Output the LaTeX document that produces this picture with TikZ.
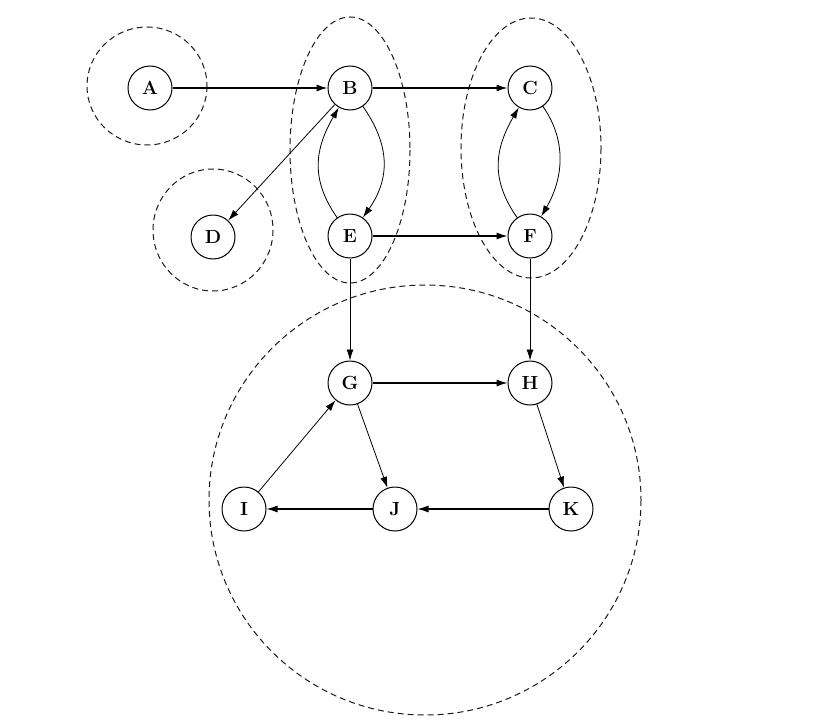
\documentclass[tikz,border=0pt]{standalone}
\usetikzlibrary{arrows.meta}
\begin{document}
\begin{tikzpicture}[x=1pt,y=-1pt,
  vtx/.style={circle,draw,line width=1pt,minimum size=44pt,inner sep=0pt,font=\fontsize{19}{19}\selectfont\bfseries},
  grp/.style={draw,dashed,dash pattern=on 6pt off 4pt,line width=1pt,gray!20!black},
  edg/.style={draw,line width=1.1pt,-{Latex[length=11pt,width=7pt]}},
  thin edg/.style={draw,line width=0.8pt,-{Latex[length=11pt,width=7pt]}}]
\useasboundingbox (0,0) rectangle (826,725);
% groups
\draw[grp] (147,86) ellipse [x radius=60, y radius=59];
\draw[grp] (213,230) ellipse [x radius=60, y radius=61];
\draw[grp] (350,150) ellipse [x radius=60, y radius=133];
\draw[grp] (531,148) ellipse [x radius=70, y radius=130];
\draw[grp] (425,500) ellipse [x radius=216, y radius=215];
% nodes
\node[vtx] (A) at (150,88) {A};
\node[vtx] (B) at (350,88) {B};
\node[vtx] (C) at (530,88) {C};
\node[vtx] (D) at (213,237) {D};
\node[vtx] (E) at (350,236) {E};
\node[vtx] (F) at (530,236) {F};
\node[vtx] (G) at (350,383) {G};
\node[vtx] (H) at (530,383) {H};
\node[vtx] (I) at (244,509) {I};
\node[vtx] (J) at (395,509) {J};
\node[vtx] (K) at (571,509) {K};
% edges
\path[edg] (A) -- (B);
\path[edg] (B) -- (C);
\path[edg] (E) -- (F);
\path[edg] (G) -- (H);
\path[edg] (K) -- (J);
\path[edg] (J) -- (I);
\path[thin edg] (B) -- (D);
\path[thin edg] (E) -- (G);
\path[thin edg] (F) -- (H);
\path[thin edg] (G) -- (J);
\path[thin edg] (H) -- (K);
\path[thin edg] (I) -- (G);
\path[thin edg] (B) to[out=-55,in=55,looseness=1.1] (E);
\path[thin edg] (E) to[out=125,in=-120,looseness=1.1] (B);
\path[thin edg] (C) to[out=-55,in=60,looseness=1.0] (F);
\path[thin edg] (F) to[out=125,in=-120,looseness=1.1] (C);
\end{tikzpicture}
\end{document}
